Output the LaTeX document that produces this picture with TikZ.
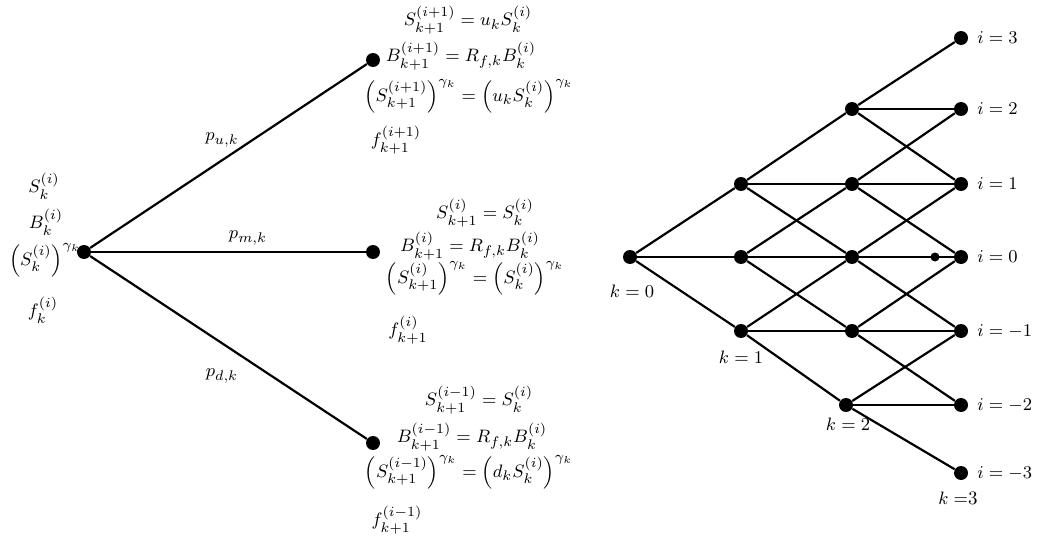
\documentclass[tikz,border=0pt]{standalone}
\usepackage{amsmath}
\begin{document}
\begin{tikzpicture}[x=0.5pt,y=-0.5pt,
  dot/.style={circle,fill=black,inner sep=0pt,minimum size=7pt},
  sdot/.style={circle,fill=black,inner sep=0pt,minimum size=4.5pt},
  ln/.style={line width=1.1pt},
  t/.style={inner sep=0pt,font=\fontsize{9.5}{11}\selectfont}]
\useasboundingbox (0,0) rectangle (1046,557);
% left tree
\node[dot] (r) at (84,252) {};
\node[dot] (u) at (373,60) {};
\node[dot] (m) at (373,252) {};
\node[dot] (d) at (373,443) {};
\draw[ln] (r) -- (u); \draw[ln] (r) -- (m); \draw[ln] (r) -- (d);
\node[t] (pu) at (222,140) {$p_{u,k}$};
\node[t] (pm) at (248,238) {$p_{m,k}$};
\node[t] (pd) at (222,376) {$p_{d,k}$};
% left block
\node[t] (l1) at (44,186) {$S_k^{(i)}$};
\node[t] (l2) at (46,222) {$B_k^{(i)}$};
\node[t] (l3) at (45,260) {$\left(S_k^{(i)}\right)^{\gamma_k}$};
\node[t] (l4) at (43,310) {$f_k^{(i)}$};
% top block
\node[t] (a1) at (468,20) {$S_{k+1}^{(i+1)}=u_kS_k^{(i)}$};
\node[t] (a2) at (461,56) {$B_{k+1}^{(i+1)}=R_{f,k}B_k^{(i)}$};
\node[t] (a3) at (469,96) {$\left(S_{k+1}^{(i+1)}\right)^{\gamma_k}=\left(u_kS_k^{(i)}\right)^{\gamma_k}$};
\node[t] (a4) at (396,140) {$f_{k+1}^{(i+1)}$};
% middle block
\node[t] (b1) at (485,213) {$S_{k+1}^{(i)}=S_k^{(i)}$};
\node[t] (b2) at (470,246) {$B_{k+1}^{(i)}=R_{f,k}B_k^{(i)}$};
\node[t] (b3) at (475,278) {$\left(S_{k+1}^{(i)}\right)^{\gamma_k}=\left(S_k^{(i)}\right)^{\gamma_k}$};
\node[t] (b4) at (408,330) {$f_{k+1}^{(i)}$};
% bottom block
\node[t] (c1) at (479,400) {$S_{k+1}^{(i-1)}=S_k^{(i)}$};
\node[t] (c2) at (472,437) {$B_{k+1}^{(i-1)}=R_{f,k}B_k^{(i)}$};
\node[t] (c3) at (469,472) {$\left(S_{k+1}^{(i-1)}\right)^{\gamma_k}=\left(d_kS_k^{(i)}\right)^{\gamma_k}$};
\node[t] (c4) at (397,520) {$f_{k+1}^{(i-1)}$};
% lattice
\node[dot] (n00) at (630,257) {};
\foreach \i/\y in {1/184,0/257,-1/331} \node[dot] (n1\i) at (741,\y) {};
\foreach \i/\y in {2/109,1/184,0/257,-1/331} \node[dot] (n2\i) at (852,\y) {};
\node[dot] (n2-2) at (846,405) {};
\foreach \i/\y in {3/38,2/109,1/184,0/257,-1/331,-2/405,-3/473} \node[dot] (n3\i) at (961,\y) {};
\foreach \j in {1,0,-1} \draw[ln] (n00) -- (n1\j);
\draw[ln] (n11) -- (n22); \draw[ln] (n11) -- (n21); \draw[ln] (n11) -- (n20);
\draw[ln] (n10) -- (n21); \draw[ln] (n10) -- (n20); \draw[ln] (n10) -- (n2-1);
\draw[ln] (n1-1) -- (n20); \draw[ln] (n1-1) -- (n2-1); \draw[ln] (n1-1) -- (n2-2);
\draw[ln] (n22) -- (n33); \draw[ln] (n22) -- (n32); \draw[ln] (n22) -- (n31);
\draw[ln] (n21) -- (n32); \draw[ln] (n21) -- (n31); \draw[ln] (n21) -- (n30);
\draw[ln] (n20) -- (n31); \draw[ln] (n20) -- (n30); \draw[ln] (n20) -- (n3-1);
\draw[ln] (n2-1) -- (n30); \draw[ln] (n2-1) -- (n3-1); \draw[ln] (n2-1) -- (n3-2);
\draw[ln] (n2-2) -- (n3-1); \draw[ln] (n2-2) -- (n3-2); \draw[ln] (n2-2) -- (n3-3);
\node[sdot] (sm) at (935,257) {};
\foreach \i/\y in {3/38,2/109,1/184,0/257,-1/331,-2/405,-3/473}
  \node[t,anchor=west] (li\i) at (977,\y) {$i=\i$};
\node[t] (k0) at (632,291) {$k=0$};
\node[t] (k1) at (741,357) {$k=1$};
\node[t] (k2) at (848,424) {$k=2$};
\node[t] (k3) at (958,498) {$k=$3};
\end{tikzpicture}
\end{document}
